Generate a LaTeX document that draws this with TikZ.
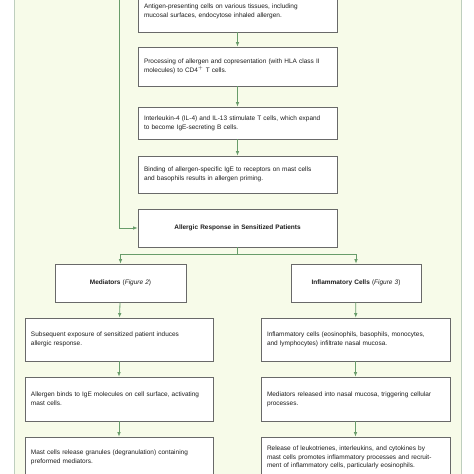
\documentclass[tikz,border=0pt]{standalone}
\usepackage{fontspec}
\setmainfont{Liberation Sans}
\usetikzlibrary{arrows.meta}

\definecolor{panelbg}{RGB}{247,251,233}
\definecolor{paneledge}{RGB}{190,206,190}
\definecolor{linkgreen}{RGB}{104,156,106}
\definecolor{boxedge}{RGB}{105,105,105}
\definecolor{boxtext}{RGB}{30,30,30}

\tikzset{
    box/.style={draw=boxedge, fill=white, line width=0.8pt, align=left,
        inner xsep=6bp, text=boxtext,
        font=\fontsize{6.5}{8.7}\selectfont},
    headbox/.style={box, align=center},
    arr/.style={draw=linkgreen, line width=0.8pt, -{Latex[length=4.5pt,width=3.6pt]}},
    link/.style={draw=linkgreen, line width=0.8pt}
}

\begin{document}
\begin{tikzpicture}[x=1bp, y=-1bp]
\useasboundingbox (0,0) rectangle (474,474);
\clip (0,0) rectangle (474,474);

% background panel
\draw[fill=panelbg, draw=paneledge, line width=0.6pt] (14,-10) rectangle (461,490);

% sensitization chain
\node[box, minimum width=199bp, minimum height=41bp, text width=187bp] (present) at (237.5,11.5)
    {Antigen-presenting cells on various tissues, including\\ mucosal surfaces, endocytose inhaled allergen.};
\node[box, minimum width=199bp, minimum height=39bp, text width=187bp] (process) at (237.5,66.5)
    {Processing of allergen and copresentation (with HLA class II\\ molecules) to CD4$^{+}$ T cells.};
\node[box, minimum width=199bp, minimum height=32bp, text width=187bp] (interleukin) at (237.5,123)
    {Interleukin-4 (IL-4) and IL-13 stimulate T cells, which expand\\ to become IgE-secreting B cells.};
\node[box, minimum width=199bp, minimum height=37bp, text width=187bp] (binding) at (237.5,174.5)
    {Binding of allergen-specific IgE to receptors on mast cells\\ and basophils results in allergen priming.};
\node[headbox, minimum width=199bp, minimum height=38bp, text width=187bp] (response) at (237.5,228)
    {\textbf{Allergic Response in Sensitized Patients}};

% two branches
\node[headbox, minimum width=131bp, minimum height=38bp, text width=119bp] (mediators) at (120.5,283)
    {\textbf{Mediators} (\textit{Figure 2})};
\node[headbox, minimum width=130bp, minimum height=38bp, text width=118bp] (inflcells) at (356,283)
    {\textbf{Inflammatory Cells} (\textit{Figure 3})};

\node[box, minimum width=188bp, minimum height=43bp, text width=176bp] (exposure) at (119,339.5)
    {Subsequent exposure of sensitized patient induces\\ allergic response.};
\node[box, minimum width=188bp, minimum height=44bp, text width=176bp] (binds) at (119,399)
    {Allergen binds to IgE molecules on cell surface, activating\\ mast cells.};
\node[box, minimum width=188bp, minimum height=41bp, text width=176bp] (granules) at (119,457.5)
    {Mast cells release granules (degranulation) containing\\ preformed mediators.};

\node[box, minimum width=189bp, minimum height=43bp, text width=177bp] (infiltrate) at (355.5,339.5)
    {Inflammatory cells (eosinophils, basophils, monocytes,\\ and lymphocytes) infiltrate nasal mucosa.};
\node[box, minimum width=189bp, minimum height=44bp, text width=177bp] (released) at (355.5,399)
    {Mediators released into nasal mucosa, triggering cellular\\ processes.};
\node[box, minimum width=189bp, minimum height=41bp, text width=177bp] (leukotrienes) at (355.5,457.5)
    {Release of leukotrienes, interleukins, and cytokines by\\ mast cells promotes inflammatory processes and recruit-\\ ment of inflammatory cells, particularly eosinophils.};

% connectors
\foreach \a/\b in {present/process, process/interleukin, interleukin/binding,
    mediators/exposure, exposure/binds, binds/granules,
    inflcells/infiltrate, infiltrate/released, released/leukotrienes}{
    \draw[arr] (\a) -- (\b);
}

\coordinate (loop) at (119,-10);
\draw[arr] (loop) |- (response.west);

\coordinate (split) at (237.5,254);
\draw[link] (response.south) -- (split);
\draw[arr] (split) -| (mediators.north);
\draw[arr] (split) -| (inflcells.north);

\end{tikzpicture}
\end{document}
